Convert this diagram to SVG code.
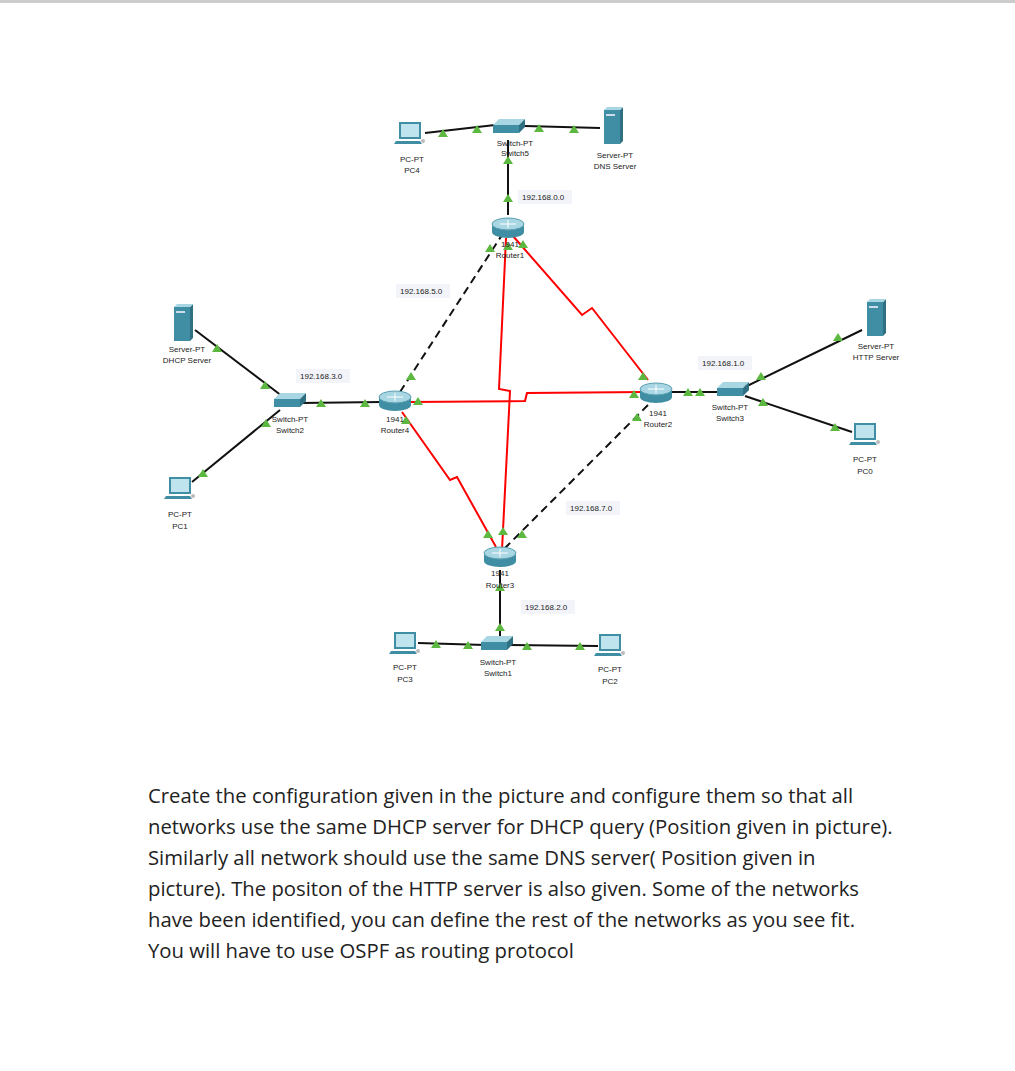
<svg xmlns="http://www.w3.org/2000/svg" width="1015" height="1071" viewBox="0 0 1015 1071">
<defs>
<style>
.l{font-family:"Liberation Sans",Arial,sans-serif;font-size:8px;fill:#222;text-anchor:middle}
.n{font-family:"Liberation Sans",Arial,sans-serif;font-size:8px;fill:#222}
.nb{fill:#f3f4fa}
.k{stroke:#111;stroke-width:2;fill:none}
.d{stroke:#111;stroke-width:2;fill:none;stroke-dasharray:8,5}
.r{stroke:#f00;stroke-width:2;fill:none}
.t{fill:#5cb840}
.p{font-family:"Open Sans","Noto Sans",sans-serif;font-size:20.3px;fill:#222}
</style>
<g id="tri"><path d="M0,-5 L5,3 L-5,3Z" class="t"/></g>
<g id="router"><path d="M-16,-4 v8 a16,6 0 0 0 32,0 v-8" fill="#3f8ea3"/><ellipse cx="0" cy="-4" rx="16" ry="6" fill="#a8d6e2" stroke="#5a9fb2"/><path d="M-8,-4 h16 M0,-8 v8" stroke="#fff" stroke-width="1"/></g>
<g id="switch"><path d="M-16,-4 l6,-6 h26 l-6,6z" fill="#a8d6e2"/><path d="M-16,-4 h26 v8 h-26z" fill="#3f8ea3"/><path d="M10,-4 l6,-6 v8 l-6,6z" fill="#2f7082"/></g>
<g id="pc"><rect x="-11" y="-13" width="22" height="17" fill="#3f8ea3"/><rect x="-9" y="-11" width="18" height="13" fill="#bfe4ee"/><path d="M-14,6 h24 l2,3 h-28z" fill="#3f8ea3"/><circle cx="13" cy="6" r="2" fill="#bbb"/></g>
<g id="srv"><path d="M-9,-18 h16 v34 h-16z" fill="#3f8ea3"/><path d="M7,-18 l3,-3 v34 l-3,3z" fill="#2f7082"/><path d="M-9,-18 l3,-3 h16 l-3,3z" fill="#a8d6e2"/><rect x="-7" y="-14" width="9" height="2" fill="#cde"/></g>
</defs>
<rect width="1015" height="1071" fill="#fff"/>
<rect width="1015" height="3" fill="#ccc"/>
<g id="connectors">
<path class="k" d="M425,133 L495,125"/>
<path class="k" d="M525,126 L600,128"/>
<path class="k" d="M508,140 V215"/>
<path class="k" d="M195,330 L282,396"/>
<path class="k" d="M192,482 L280,410"/>
<path class="k" d="M300,403 L382,402"/>
<path class="d" d="M400,392 L502,235"/>
<path class="d" d="M648,405 L505,548"/>
<path class="k" d="M670,392 L720,392"/>
<path class="k" d="M745,387 L862,330"/>
<path class="k" d="M745,396 L852,432"/>
<path class="k" d="M500,570 V638"/>
<path class="k" d="M418,643 L485,645"/>
<path class="k" d="M510,645 L598,646"/>
<path class="r" d="M513,236 L582,315 L592,308 L648,380"/>
<path class="r" d="M506,238 L499,389 L510,391 L502,550"/>
<path class="r" d="M410,402 L525,401 L527,393 L645,392"/>
<path class="r" d="M402,412 L450,480 L457,477 L496,547"/>
</g>
<g id="tris">
<use href="#tri" x="443" y="134"/><use href="#tri" x="477" y="130"/>
<use href="#tri" x="539" y="129"/><use href="#tri" x="574" y="130"/>
<use href="#tri" x="508" y="161"/><use href="#tri" x="508" y="199"/>
<use href="#tri" x="490" y="249"/><use href="#tri" x="508" y="247"/><use href="#tri" x="523" y="245"/>
<use href="#tri" x="217" y="349"/><use href="#tri" x="265" y="386"/>
<use href="#tri" x="266" y="424"/><use href="#tri" x="203" y="474"/>
<use href="#tri" x="321" y="404"/><use href="#tri" x="365" y="404"/>
<use href="#tri" x="411" y="377"/><use href="#tri" x="418" y="402"/><use href="#tri" x="406" y="421"/>
<use href="#tri" x="643" y="377"/><use href="#tri" x="634" y="395"/><use href="#tri" x="637" y="418"/>
<use href="#tri" x="688" y="393"/><use href="#tri" x="700" y="393"/>
<use href="#tri" x="761" y="377"/><use href="#tri" x="838" y="338"/>
<use href="#tri" x="763" y="403"/><use href="#tri" x="835" y="428"/>
<use href="#tri" x="488" y="535"/><use href="#tri" x="503" y="532"/><use href="#tri" x="522" y="535"/>
<use href="#tri" x="500" y="588"/><use href="#tri" x="500" y="628"/>
<use href="#tri" x="436" y="645"/><use href="#tri" x="468" y="646"/>
<use href="#tri" x="527" y="647"/><use href="#tri" x="580" y="647"/>
</g>
<g id="Switch5"><use href="#switch" x="509" y="129"/><text class="l" x="515" y="146">Switch-PT</text><text class="l" x="515" y="156">Switch5</text></g>
<g id="PC4"><use href="#pc" x="410" y="135"/><text class="l" x="412" y="162">PC-PT</text><text class="l" x="412" y="173">PC4</text></g>
<g id="DNS"><use href="#srv" x="613" y="128"/><text class="l" x="615" y="158">Server-PT</text><text class="l" x="615" y="169">DNS Server</text></g>
<g id="Router1"><use href="#router" x="508" y="228"/><text class="l" x="510" y="247">1941</text><text class="l" x="510" y="258">Router1</text></g>
<g id="DHCP"><use href="#srv" x="183" y="325"/><text class="l" x="187" y="352">Server-PT</text><text class="l" x="187" y="363">DHCP Server</text></g>
<g id="HTTP"><use href="#srv" x="876" y="320"/><text class="l" x="876" y="349">Server-PT</text><text class="l" x="876" y="360">HTTP Server</text></g>
<g id="Switch2"><use href="#switch" x="290" y="403"/><text class="l" x="290" y="422">Switch-PT</text><text class="l" x="290" y="433">Switch2</text></g>
<g id="Router4"><use href="#router" x="395" y="401"/><text class="l" x="395" y="422">1941</text><text class="l" x="395" y="433">Router4</text></g>
<g id="Router2"><use href="#router" x="656" y="393"/><text class="l" x="658" y="416">1941</text><text class="l" x="658" y="427">Router2</text></g>
<g id="Switch3"><use href="#switch" x="733" y="392"/><text class="l" x="730" y="410">Switch-PT</text><text class="l" x="730" y="421">Switch3</text></g>
<g id="PC0"><use href="#pc" x="865" y="436"/><text class="l" x="865" y="462">PC-PT</text><text class="l" x="865" y="474">PC0</text></g>
<g id="PC1"><use href="#pc" x="180" y="490"/><text class="l" x="180" y="517">PC-PT</text><text class="l" x="180" y="529">PC1</text></g>
<g id="Router3"><use href="#router" x="500" y="557"/><text class="l" x="500" y="576">1941</text><text class="l" x="500" y="588">Router3</text></g>
<g id="Switch1"><use href="#switch" x="497" y="646"/><text class="l" x="498" y="665">Switch-PT</text><text class="l" x="498" y="676">Switch1</text></g>
<g id="PC3"><use href="#pc" x="405" y="645"/><text class="l" x="405" y="670">PC-PT</text><text class="l" x="405" y="682">PC3</text></g>
<g id="PC2"><use href="#pc" x="610" y="647"/><text class="l" x="610" y="672">PC-PT</text><text class="l" x="610" y="684">PC2</text></g>
<g id="netlabels">
<rect class="nb" x="518" y="190" width="54" height="14"/><text class="n" x="522" y="200">192.168.0.0</text>
<rect class="nb" x="396" y="284" width="54" height="14"/><text class="n" x="400" y="294">192.168.5.0</text>
<rect class="nb" x="296" y="369" width="54" height="14"/><text class="n" x="300" y="379">192.168.3.0</text>
<rect class="nb" x="698" y="356" width="54" height="14"/><text class="n" x="702" y="366">192.168.1.0</text>
<rect class="nb" x="566" y="501" width="54" height="14"/><text class="n" x="570" y="511">192.168.7.0</text>
<rect class="nb" x="521" y="600" width="54" height="14"/><text class="n" x="525" y="610">192.168.2.0</text>
</g>
<g id="para">
<text class="p" x="148" y="803">Create the configuration given in the picture and configure them so that all</text>
<text class="p" x="148" y="834">networks use the same DHCP server for DHCP query (Position given in picture).</text>
<text class="p" x="148" y="865">Similarly all network should use the same DNS server( Position given in</text>
<text class="p" x="148" y="896">picture). The positon of the HTTP server is also given. Some of the networks</text>
<text class="p" x="148" y="927">have been identified, you can define the rest of the networks as you see fit.</text>
<text class="p" x="148" y="958">You will have to use OSPF as routing protocol</text>
</g>
</svg>
